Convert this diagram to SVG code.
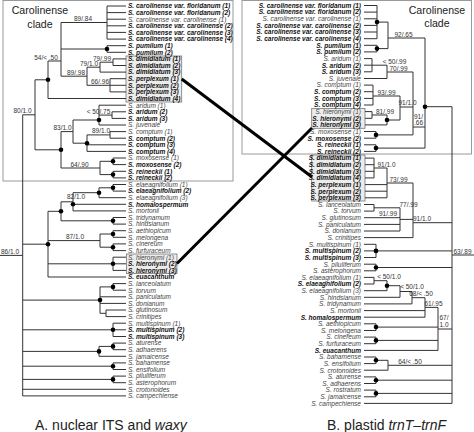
<svg xmlns="http://www.w3.org/2000/svg" width="474" height="432" viewBox="0 0 474 432">
<defs>
<style>
.tx{font-family:"Liberation Sans",Arial,sans-serif;font-size:6.5px;font-style:italic;fill:#444}
.b{font-weight:bold;fill:#111}
.r{text-anchor:end}
.sl{font-family:"Liberation Sans",Arial,sans-serif;font-size:6.5px;fill:#333;text-anchor:middle}
.br{fill:none;stroke:#333;stroke-width:1}
.cl{fill:none;stroke:#999;stroke-width:1}
.lb{fill:#ececec;stroke:#777;stroke-width:0.8}
.cx{stroke:#000;stroke-width:3;fill:none}
.hd{font-family:"Liberation Sans",Arial,sans-serif;font-size:10.6px;fill:#222;text-anchor:middle}
.cap{font-family:"Liberation Sans",Arial,sans-serif;font-size:14px;fill:#222}
</style>
<circle id="d" r="2.3" fill="#000"/>
</defs>
<rect width="474" height="432" fill="#fff"/>
<g id="clade-boxes">
<rect class="cl" x="3" y="0.5" width="230" height="180.5"/>
<rect class="cl" x="242" y="0.5" width="229.5" height="153.5"/>
<rect class="lb" x="126" y="56" width="55.7" height="46"/>
<rect class="lb" x="126.5" y="254" width="50.5" height="19.5"/>
<rect class="lb" x="311.7" y="108.5" width="53.3" height="19.8"/>
<rect class="lb" x="311.7" y="155" width="53.3" height="46"/>
<text class="hd" x="40" y="14">Carolinense</text>
<text class="hd" x="40" y="28">clade</text>
<text class="hd" x="437" y="14">Carolinense</text>
<text class="hd" x="437" y="27">clade</text>
</g>
<g id="connectors">
<path class="br" d="M107 6H126M107 12.6H126M107 19.2H126M107 25.8H126M107 32.4H126M107 39.1H126M107 6V39.1M107 45.7H126M107 52.3H126M107 45.7V52.3M61 22.5H107M61 49H107M61 22.5V76.2M113 58.9H126M113 65.5H126M113 58.9V65.5M100 62.2H113M100 72.1H126M100 62.2V72.1M87 67.2H100M110 78.7H126M110 85.3H126M110 91.9H126M110 78.7V91.9M87 85.3H110M87 67.2V85.3M61 76.2H87M48 61H61M48 98.5H126M48 61V98.5M35 79.8H48M35 79.8V149.8M22.7 114.8H35"/>
<path class="br" d="M112 111.8H126M112 118.4H126M112 111.8V118.4M99 115.1H112M99 105.2H126M99 125H126M99 105.2V125M73 120H99M73 143.2H87M73 120V143.2M61 131.6H73M110 131.6H126M110 138.2H126M110 131.6V138.2M87 134.9H110M87 144.8H126M87 151.4H126M87 134.9V151.4M61 131.6V168M61 168H100M35 149.8H61M113 158H126M113 164.6H126M113 158V164.6M113 171.3H126M113 177.9H126M113 171.3V177.9M100 161.3H113M100 174.6H113M100 161.3V174.6"/>
<path class="br" d="M113 184.5H126M113 191.1H126M113 184.5V191.1M99 187.8H113M99 197.7H126M99 187.8V197.7M73 192.7H99M73 204.3H126M73 210.9H126M73 192.7V210.9M61 201.8H73M113 217.5H126M113 224.1H126M113 217.5V224.1M61 220.8H113M61 201.8V220.8M48 211.3H61M113 230.7H126M113 237.3H126M113 230.7V237.3M113 243.9H126M113 250.6H126M113 243.9V250.6M100 234H113M100 247.2H113M100 234V247.2M48 240.6H100M113 257.2H126M113 263.8H126M113 270.4H126M113 257.2V270.4M48 263.8H113M48 277H126M48 211.3V277M22.7 244.2H48"/>
<path class="br" d="M113 283.6H126M113 290.2H126M113 283.6V290.2M100 286.9H113M100 296.8H126M100 303.4H126M106 310H126M106 316.6H126M106 310V316.6M100 313.3H106M100 286.9V313.3M22.7 300.1H100M113 323.2H126M113 329.8H126M113 336.5H126M113 323.2V336.5M22.7 329.8H113M113 343.1H126M113 349.7H126M113 343.1V349.7M99 346.4H113M99 356.3H126M99 346.4V356.3M22.7 351.4H99M113 362.9H126M113 369.5H126M113 362.9V369.5M22.7 366.2H113M113 376.1H126M113 382.7H126M113 376.1V382.7M22.7 379.4H113M22.7 389.3H126M22.7 395.9H126M22.7 114.8V395.9M0 255.4H22.7"/>
<path class="br" d="M364 5.5H377M364 12.1H377M364 18.8H377M364 25.4H377M364 32H377M364 38.7H377M377 5.5V38.7M377 22.1H388M364 45.3H377M364 51.9H377M377 45.3V51.9M377 48.6H388M388 22.1V48.6M388 38H425M364 58.6H372M364 65.2H372M364 71.8H372M372 58.6V71.8M372 65.2H387M364 78.5H387M387 65.2V78.5M387 72H413M364 85.1H373M364 91.7H373M364 98.4H373M364 105H373M373 85.1V105M373 96H400M365 111.6H372M365 118.3H372M372 111.6V118.3M372 115H387M365 124.9H387M387 115V124.9M387 120H400M400 96V120M400 107H413M364 131.5H376M364 138.2H376M376 131.5V138.2M376 134.9H413M413 72V134.9M413 127H425M364 144.8H376M364 151.4H376M376 144.8V151.4M376 148.1H425M425 38V148.1M425 106.7H452"/>
<path class="br" d="M365 158.1H374M365 164.7H374M365 171.3H374M365 177.9H374M374 158.1V177.9M374 168H387M365 184.6H387M365 191.2H387M365 197.8H387M387 168V197.8M387 183H413M364 204.5H374M364 211.1H374M374 204.5V211.1M374 207.8H400M364 217.7H400M364 224.4H400M364 231H400M400 207.8V231M400 219.4H413M364 237.6H413M413 183V237.6M413 222.7H452M364 244.3H376M364 250.9H376M364 257.5H376M376 244.3V257.5M376 250.9H452M364 264.2H376M364 270.8H376M376 264.2V270.8M376 267.5H452"/>
<path class="br" d="M364 277.4H374M364 284H374M374 277.4V284M374 280.7H387M364 290.7H387M387 280.7V290.7M387 285.7H400M364 297.3H400M400 285.7V297.3M400 291.5H412M364 303.9H412M412 291.5V303.9M412 297.7H425M364 310.6H425M364 317.2H425M425 297.7V317.2M425 307.4H438M364 323.8H376M364 330.5H376M376 323.8V330.5M376 327.1H438M364 337.1H376M364 343.7H376M376 337.1V343.7M376 340.4H438M364 350.4H438M438 307.4V350.4M438 329H452M364 357H376M364 363.6H376M376 357V363.6M376 360.3H388M364 370.2H388M388 360.3V370.2M388 365.3H452M364 376.9H376M364 383.5H376M376 376.9V383.5M376 380.2H452M364 390.1H376M364 396.8H376M376 390.1V396.8M376 393.4H452M364 403.4H452M452 106.7V403.4M452 255H474"/>
<g id="dots">
<use href="#d" x="107" y="49"/><use href="#d" x="48" y="79.8"/><use href="#d" x="99" y="120"/><use href="#d" x="87" y="143.2"/><use href="#d" x="61" y="149.8"/><use href="#d" x="113" y="161.3"/><use href="#d" x="113" y="174.6"/><use href="#d" x="113" y="187.8"/><use href="#d" x="99" y="192.7"/><use href="#d" x="73" y="204.3"/><use href="#d" x="61" y="211.3"/><use href="#d" x="113" y="220.8"/><use href="#d" x="113" y="234"/><use href="#d" x="113" y="247.2"/><use href="#d" x="48" y="244.2"/><use href="#d" x="113" y="263.8"/><use href="#d" x="113" y="286.9"/><use href="#d" x="100" y="300.1"/><use href="#d" x="113" y="329.8"/><use href="#d" x="113" y="346.4"/><use href="#d" x="99" y="351.4"/><use href="#d" x="113" y="366.2"/><use href="#d" x="113" y="379.4"/>
<use href="#d" x="377" y="22.1"/><use href="#d" x="377" y="48.6"/><use href="#d" x="425" y="106.7"/><use href="#d" x="387" y="120"/><use href="#d" x="376" y="134.9"/><use href="#d" x="376" y="148.1"/><use href="#d" x="376" y="250.9"/><use href="#d" x="376" y="267.5"/><use href="#d" x="387" y="285.7"/><use href="#d" x="376" y="327.1"/><use href="#d" x="376" y="340.4"/><use href="#d" x="376" y="360.3"/><use href="#d" x="376" y="380.2"/><use href="#d" x="376" y="393.4"/>
</g>
<path class="cx" d="M181.7 79L312 177M177 263.5L312 128"/>
</g>
<g id="support-labels">
<text class="sl" x="83" y="21">89/.84</text>
<text class="sl" x="46" y="59.5">54/&lt; .50</text>
<text class="sl" x="102" y="60.7">79/.99</text>
<text class="sl" x="89" y="65.7">79/1.0</text>
<text class="sl" x="76" y="74.7">89/.98</text>
<text class="sl" x="100" y="83.8">66/.96</text>
<text class="sl" x="22.5" y="113.3">80/1.0</text>
<text class="sl" x="98.5" y="113.6">&lt; 50/.75</text>
<text class="sl" x="62.5" y="130.1">83/1.0</text>
<text class="sl" x="101" y="133.4">89/1.0</text>
<text class="sl" x="79.5" y="166.5">64/.90</text>
<text class="sl" x="76" y="199">82/1.0</text>
<text class="sl" x="75" y="239.1">87/1.0</text>
<text class="sl" x="10" y="253.9">86/1.0</text>
<text class="sl" x="403.5" y="36.5">92/.65</text>
<text class="sl" x="394.5" y="64">&lt; 50/.99</text>
<text class="sl" x="398.5" y="71">70/.99</text>
<text class="sl" x="386.5" y="94.5">93/.99</text>
<text class="sl" x="407.5" y="105.3">91/1.0</text>
<text class="sl" x="385" y="114">81/.99</text>
<text class="sl" x="418.5" y="118.5">91/</text>
<text class="sl" x="418.5" y="125">.66</text>
<text class="sl" x="386.5" y="166.5">91/1.0</text>
<text class="sl" x="398.5" y="181.5">73/.99</text>
<text class="sl" x="408.5" y="206.5">77/.99</text>
<text class="sl" x="388" y="215.5">91/.99</text>
<text class="sl" x="422" y="221">91/1.0</text>
<text class="sl" x="462.5" y="253.5">63/.89</text>
<text class="sl" x="389" y="279">&lt; 50/1.0</text>
<text class="sl" x="412" y="289">&lt; 50/1.0</text>
<text class="sl" x="421" y="296">68/&lt; .50</text>
<text class="sl" x="433.5" y="305.5">61/.95</text>
<text class="sl" x="444" y="320">67/</text>
<text class="sl" x="444" y="326.5">1.0</text>
<text class="sl" x="410" y="363.5">64/&lt; .50</text>
</g>
<g id="treeA-taxa">
<g id="a01"><text class="tx b" x="128" y="8.3">S. carolinense var. floridanum (1)</text></g>
<g id="a02"><text class="tx b" x="128" y="14.9">S. carolinense var. floridanum (2)</text></g>
<g id="a03"><text class="tx" x="128" y="21.5">S. carolinense var. carolinense (1)</text></g>
<g id="a04"><text class="tx b" x="128" y="28.1">S. carolinense var. carolinense (2)</text></g>
<g id="a05"><text class="tx b" x="128" y="34.7">S. carolinense var. carolinense (3)</text></g>
<g id="a06"><text class="tx b" x="128" y="41.4">S. carolinense var. carolinense (4)</text></g>
<g id="a07"><text class="tx b" x="128" y="48">S. pumilum (1)</text></g>
<g id="a08"><text class="tx b" x="128" y="54.6">S. pumilum (2)</text></g>
<g id="a09"><text class="tx b" x="128" y="61.2">S. dimidiatum (1)</text></g>
<g id="a10"><text class="tx b" x="128" y="67.8">S. dimidiatum (2)</text></g>
<g id="a11"><text class="tx b" x="128" y="74.4">S. dimidiatum (3)</text></g>
<g id="a12"><text class="tx b" x="128" y="81">S. perplexum (1)</text></g>
<g id="a13"><text class="tx b" x="128" y="87.6">S. perplexum (2)</text></g>
<g id="a14"><text class="tx b" x="128" y="94.2">S. perplexum (3)</text></g>
<g id="a15"><text class="tx b" x="128" y="100.8">S. dimidiatum (4)</text></g>
<g id="a16"><text class="tx" x="128" y="107.5">S. aridum (1)</text></g>
<g id="a17"><text class="tx b" x="128" y="114.1">S. aridum (2)</text></g>
<g id="a18"><text class="tx b" x="128" y="120.7">S. aridum (3)</text></g>
<g id="a19"><text class="tx" x="128" y="127.3">S. juvenale</text></g>
<g id="a20"><text class="tx" x="128" y="133.9">S. comptum (1)</text></g>
<g id="a21"><text class="tx b" x="128" y="140.5">S. comptum (2)</text></g>
<g id="a22"><text class="tx b" x="128" y="147.1">S. comptum (3)</text></g>
<g id="a23"><text class="tx b" x="128" y="153.7">S. comptum (4)</text></g>
<g id="a24"><text class="tx" x="128" y="160.3">S. moxosense (1)</text></g>
<g id="a25"><text class="tx b" x="128" y="166.9">S. moxosense (2)</text></g>
<g id="a26"><text class="tx b" x="128" y="173.6">S. reineckii (1)</text></g>
<g id="a27"><text class="tx b" x="128" y="180.2">S. reineckii (2)</text></g>
<g id="a28"><text class="tx" x="128" y="186.8">S. elaeagnifolium (1)</text></g>
<g id="a29"><text class="tx b" x="128" y="193.4">S. elaeagnifolium (2)</text></g>
<g id="a30"><text class="tx" x="128" y="200">S. elaeagnifolium (3)</text></g>
<g id="a31"><text class="tx b" x="128" y="206.6">S. homalospermum</text></g>
<g id="a32"><text class="tx" x="128" y="213.2">S. mortonii</text></g>
<g id="a33"><text class="tx" x="128" y="219.8">S. tridynamum</text></g>
<g id="a34"><text class="tx" x="128" y="226.4">S. hindsianum</text></g>
<g id="a35"><text class="tx" x="128" y="233">S. aethiopicum</text></g>
<g id="a36"><text class="tx" x="128" y="239.6">S. melongena</text></g>
<g id="a37"><text class="tx" x="128" y="246.2">S. cinereum</text></g>
<g id="a38"><text class="tx" x="128" y="252.9">S. furfuraceum</text></g>
<g id="a39"><text class="tx" x="128" y="259.5">S. hieronymi (1)</text></g>
<g id="a40"><text class="tx b" x="128" y="266.1">S. hieronymi (2)</text></g>
<g id="a41"><text class="tx b" x="128" y="272.7">S. hieronymi (3)</text></g>
<g id="a42"><text class="tx b" x="128" y="279.3">S. euacanthum</text></g>
<g id="a43"><text class="tx" x="128" y="285.9">S. lanceolatum</text></g>
<g id="a44"><text class="tx" x="128" y="292.5">S. torvum</text></g>
<g id="a45"><text class="tx" x="128" y="299.1">S. paniculatum</text></g>
<g id="a46"><text class="tx" x="128" y="305.7">S. donianum</text></g>
<g id="a47"><text class="tx" x="128" y="312.3">S. glutinosum</text></g>
<g id="a48"><text class="tx" x="128" y="318.9">S. crinitipes</text></g>
<g id="a49"><text class="tx" x="128" y="325.5">S. multispinum (1)</text></g>
<g id="a50"><text class="tx b" x="128" y="332.1">S. multispinum (2)</text></g>
<g id="a51"><text class="tx b" x="128" y="338.8">S. multispinum (3)</text></g>
<g id="a52"><text class="tx" x="128" y="345.4">S. aturense</text></g>
<g id="a53"><text class="tx" x="128" y="352">S. adhaerens</text></g>
<g id="a54"><text class="tx" x="128" y="358.6">S. jamaicense</text></g>
<g id="a55"><text class="tx" x="128" y="365.2">S. bahamense</text></g>
<g id="a56"><text class="tx" x="128" y="371.8">S. ensifolium</text></g>
<g id="a57"><text class="tx" x="128" y="378.4">S. piluliferum</text></g>
<g id="a58"><text class="tx" x="128" y="385">S. asterophorum</text></g>
<g id="a59"><text class="tx" x="128" y="391.6">S. crotonoides</text></g>
<g id="a60"><text class="tx" x="128" y="398.2">S. campechiense</text></g>
</g>
<g id="treeB-taxa">
<g id="b01"><text class="tx b r" x="361" y="7.8">S. carolinense var. floridanum (1)</text></g>
<g id="b02"><text class="tx b r" x="361" y="14.4">S. carolinense var. floridanum (2)</text></g>
<g id="b03"><text class="tx r" x="361" y="21.1">S. carolinense var. carolinense (1)</text></g>
<g id="b04"><text class="tx b r" x="361" y="27.7">S. carolinense var. carolinense (2)</text></g>
<g id="b05"><text class="tx b r" x="361" y="34.3">S. carolinense var. carolinense (3)</text></g>
<g id="b06"><text class="tx b r" x="361" y="41">S. carolinense var. carolinense (4)</text></g>
<g id="b07"><text class="tx b r" x="361" y="47.6">S. pumilum (1)</text></g>
<g id="b08"><text class="tx b r" x="361" y="54.2">S. pumilum (2)</text></g>
<g id="b09"><text class="tx r" x="361" y="60.9">S. aridum (1)</text></g>
<g id="b10"><text class="tx b r" x="361" y="67.5">S. aridum (2)</text></g>
<g id="b11"><text class="tx b r" x="361" y="74.1">S. aridum (3)</text></g>
<g id="b12"><text class="tx r" x="361" y="80.8">S. juvenale</text></g>
<g id="b13"><text class="tx r" x="361" y="87.4">S. comptum (1)</text></g>
<g id="b14"><text class="tx b r" x="361" y="94">S. comptum (2)</text></g>
<g id="b15"><text class="tx b r" x="361" y="100.7">S. comptum (3)</text></g>
<g id="b16"><text class="tx b r" x="361" y="107.3">S. comptum (4)</text></g>
<g id="b17"><text class="tx r" x="361" y="113.9">S. hieronymi (1)</text></g>
<g id="b18"><text class="tx b r" x="361" y="120.6">S. hieronymi (2)</text></g>
<g id="b19"><text class="tx b r" x="361" y="127.2">S. hieronymi (3)</text></g>
<g id="b20"><text class="tx r" x="361" y="133.8">S. moxosense (1)</text></g>
<g id="b21"><text class="tx b r" x="361" y="140.5">S. moxosense (2)</text></g>
<g id="b22"><text class="tx b r" x="361" y="147.1">S. reineckii (1)</text></g>
<g id="b23"><text class="tx b r" x="361" y="153.7">S. reineckii (2)</text></g>
<g id="b24"><text class="tx b r" x="361" y="160.4">S. dimidiatum (1)</text></g>
<g id="b25"><text class="tx b r" x="361" y="167">S. dimidiatum (2)</text></g>
<g id="b26"><text class="tx b r" x="361" y="173.6">S. dimidiatum (3)</text></g>
<g id="b27"><text class="tx b r" x="361" y="180.2">S. dimidiatum (4)</text></g>
<g id="b28"><text class="tx b r" x="361" y="186.9">S. perplexum (1)</text></g>
<g id="b29"><text class="tx b r" x="361" y="193.5">S. perplexum (2)</text></g>
<g id="b30"><text class="tx b r" x="361" y="200.1">S. perplexum (3)</text></g>
<g id="b31"><text class="tx r" x="361" y="206.8">S. lanceolatum</text></g>
<g id="b32"><text class="tx r" x="361" y="213.4">S. torvum</text></g>
<g id="b33"><text class="tx r" x="361" y="220">S. glutinosum</text></g>
<g id="b34"><text class="tx r" x="361" y="226.7">S. paniculatum</text></g>
<g id="b35"><text class="tx r" x="361" y="233.3">S. donianum</text></g>
<g id="b36"><text class="tx r" x="361" y="239.9">S. crinitipes</text></g>
<g id="b37"><text class="tx r" x="361" y="246.6">S. multispinum (1)</text></g>
<g id="b38"><text class="tx b r" x="361" y="253.2">S. multispinum (2)</text></g>
<g id="b39"><text class="tx b r" x="361" y="259.8">S. multispinum (3)</text></g>
<g id="b40"><text class="tx r" x="361" y="266.5">S. piluliferum</text></g>
<g id="b41"><text class="tx r" x="361" y="273.1">S. asterophorum</text></g>
<g id="b42"><text class="tx r" x="361" y="279.7">S. elaeagnifolium (1)</text></g>
<g id="b43"><text class="tx b r" x="361" y="286.3">S. elaeagnifolium (2)</text></g>
<g id="b44"><text class="tx r" x="361" y="293">S. elaeagnifolium (3)</text></g>
<g id="b45"><text class="tx r" x="361" y="299.6">S. hindsianum</text></g>
<g id="b46"><text class="tx r" x="361" y="306.2">S. tridynamum</text></g>
<g id="b47"><text class="tx r" x="361" y="312.9">S. mortonii</text></g>
<g id="b48"><text class="tx b r" x="361" y="319.5">S. homalospermum</text></g>
<g id="b49"><text class="tx r" x="361" y="326.1">S. aethiopicum</text></g>
<g id="b50"><text class="tx r" x="361" y="332.8">S. melongena</text></g>
<g id="b51"><text class="tx r" x="361" y="339.4">S. cinereum</text></g>
<g id="b52"><text class="tx r" x="361" y="346">S. furfuraceum</text></g>
<g id="b53"><text class="tx b r" x="361" y="352.7">S. euacanthum</text></g>
<g id="b54"><text class="tx r" x="361" y="359.3">S. bahamense</text></g>
<g id="b55"><text class="tx r" x="361" y="365.9">S. ensifolium</text></g>
<g id="b56"><text class="tx r" x="361" y="372.5">S. crotonoides</text></g>
<g id="b57"><text class="tx r" x="361" y="379.2">S. aturense</text></g>
<g id="b58"><text class="tx r" x="361" y="385.8">S. adhaerens</text></g>
<g id="b59"><text class="tx r" x="361" y="392.4">S. rostratum</text></g>
<g id="b60"><text class="tx r" x="361" y="399.1">S. jamaicense</text></g>
<g id="b61"><text class="tx r" x="361" y="405.7">S. campechiense</text></g>
</g>
<g id="captions">
<text class="cap" x="35" y="430">A. nuclear ITS and <tspan font-style="italic">waxy</tspan></text>
<text class="cap" x="327" y="430">B. plastid <tspan font-style="italic">trnT–trnF</tspan></text>
</g>
</svg>
